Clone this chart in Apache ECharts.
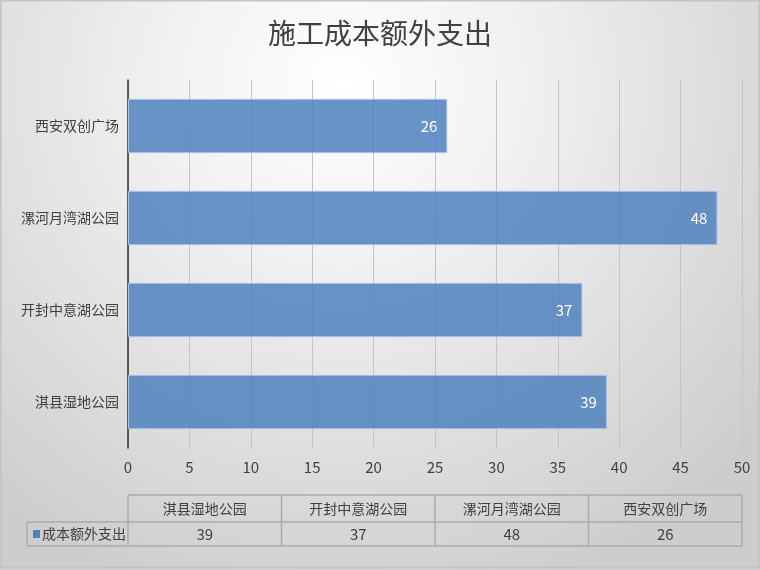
<!DOCTYPE html>
<html>
<head>
<meta charset="utf-8">
<script src="https://cdn.jsdelivr.net/npm/echarts@6/dist/echarts.min.js"></script>
<style>html,body{margin:0;padding:0;}#c{width:760px;height:570px;}</style>
</head>
<body>
<div id="c"></div>
<script>
var titleText = '施工成本额外支出';
var seriesName = '成本额外支出';
var categories = ['淇县湿地公园', '开封中意湖公园', '漯河月湾湖公园', '西安双创广场'];
var values = [39, 37, 48, 26];
var xTicks = [0, 5, 10, 15, 20, 25, 30, 35, 40, 45, 50];

var chart = echarts.init(document.getElementById('c'));
var FONT = "'Noto Sans CJK SC', sans-serif";
var TXT = '#404040';

// data table built from the arrays
var tblLeft = 128, tblRight = 742, tblTop = 495, rowH1 = 27, rowH2 = 24, legLeft = 27;
var colW = (tblRight - tblLeft) / categories.length;
var lineCol = '#ababab';
var g = [];
g.push({type:'rect', shape:{x:0.5, y:0.5, width:759, height:567}, style:{fill:'none', stroke:'#c4c4c4', lineWidth:2}, silent:true});
function hline(x1, x2, y) { g.push({type:'line', shape:{x1:x1,y1:y,x2:x2,y2:y}, style:{stroke:lineCol, lineWidth:1.5}}); }
function vline(x, y1, y2) { g.push({type:'line', shape:{x1:x,y1:y1,x2:x,y2:y2}, style:{stroke:lineCol, lineWidth:1.5}}); }
var yMid = tblTop + rowH1, yBot = tblTop + rowH1 + rowH2;
hline(tblLeft, tblRight, tblTop);
hline(legLeft, tblRight, yMid);
hline(legLeft, tblRight, yBot);
vline(legLeft, yMid, yBot);
for (var i = 0; i <= categories.length; i++) vline(tblLeft + i * colW, tblTop, yBot);
categories.forEach(function (c, i) {
  g.push({type:'text', x: tblLeft + (i + 0.5) * colW, y: tblTop + rowH1 / 2,
    style:{text:c, fill:TXT, font:"14px " + FONT, textAlign:'center', textVerticalAlign:'middle'}});
  g.push({type:'text', x: tblLeft + (i + 0.5) * colW, y: yMid + rowH2 / 2,
    style:{text:String(values[i]), fill:TXT, font:"15px " + FONT, textAlign:'center', textVerticalAlign:'middle'}});
});
g.push({type:'rect', shape:{x:33, y:yMid + rowH2/2 - 4, width:7, height:8}, style:{fill:'#4f81bd'}});
g.push({type:'text', x: 42, y: yMid + rowH2 / 2,
  style:{text:seriesName, fill:TXT, font:"14px " + FONT, textAlign:'left', textVerticalAlign:'middle'}});

chart.setOption({
  backgroundColor: {
    type: 'radial', x: 0.45, y: 0.15, r: 0.95,
    colorStops: [
      {offset: 0, color: '#ffffff'},
      {offset: 0.35, color: '#f0f0f0'},
      {offset: 1, color: '#cdcdcd'}
    ]
  },
  animation: false,
  title: {
    text: titleText, left: 'center', top: 14,
    textStyle: {fontFamily: FONT, fontSize: 28, fontWeight: 'normal', color: TXT}
  },
  grid: {left: 128, right: 18, top: 80, bottom: 122, containLabel: false},
  xAxis: {
    type: 'value', min: 0, max: 50, interval: 5,
    axisLine: {show: false},
    axisTick: {show: false},
    splitLine: {show: true, lineStyle: {color: '#c4c4c4', width: 1}},
    axisLabel: {
      color: TXT, fontFamily: FONT, fontSize: 15, margin: 12,
      formatter: function (v) { return xTicks.indexOf(v) >= 0 ? String(v) : ''; }
    }
  },
  yAxis: {
    type: 'category', data: categories,
    axisLine: {show: true, lineStyle: {color: '#303030', width: 1.5}},
    axisTick: {show: false},
    axisLabel: {color: TXT, fontFamily: FONT, fontSize: 14, margin: 9}
  },
  series: [{
    name: seriesName, type: 'bar', data: values,
    barCategoryGap: '41%',
    itemStyle: {color: 'rgba(79,129,189,0.85)', borderColor: '#a9c3e3', borderWidth: 1},
    label: {
      show: true, position: 'insideRight', distance: 10,
      color: '#ffffff', fontFamily: FONT, fontSize: 15
    }
  }],
  graphic: g
});
</script>
</body>
</html>
